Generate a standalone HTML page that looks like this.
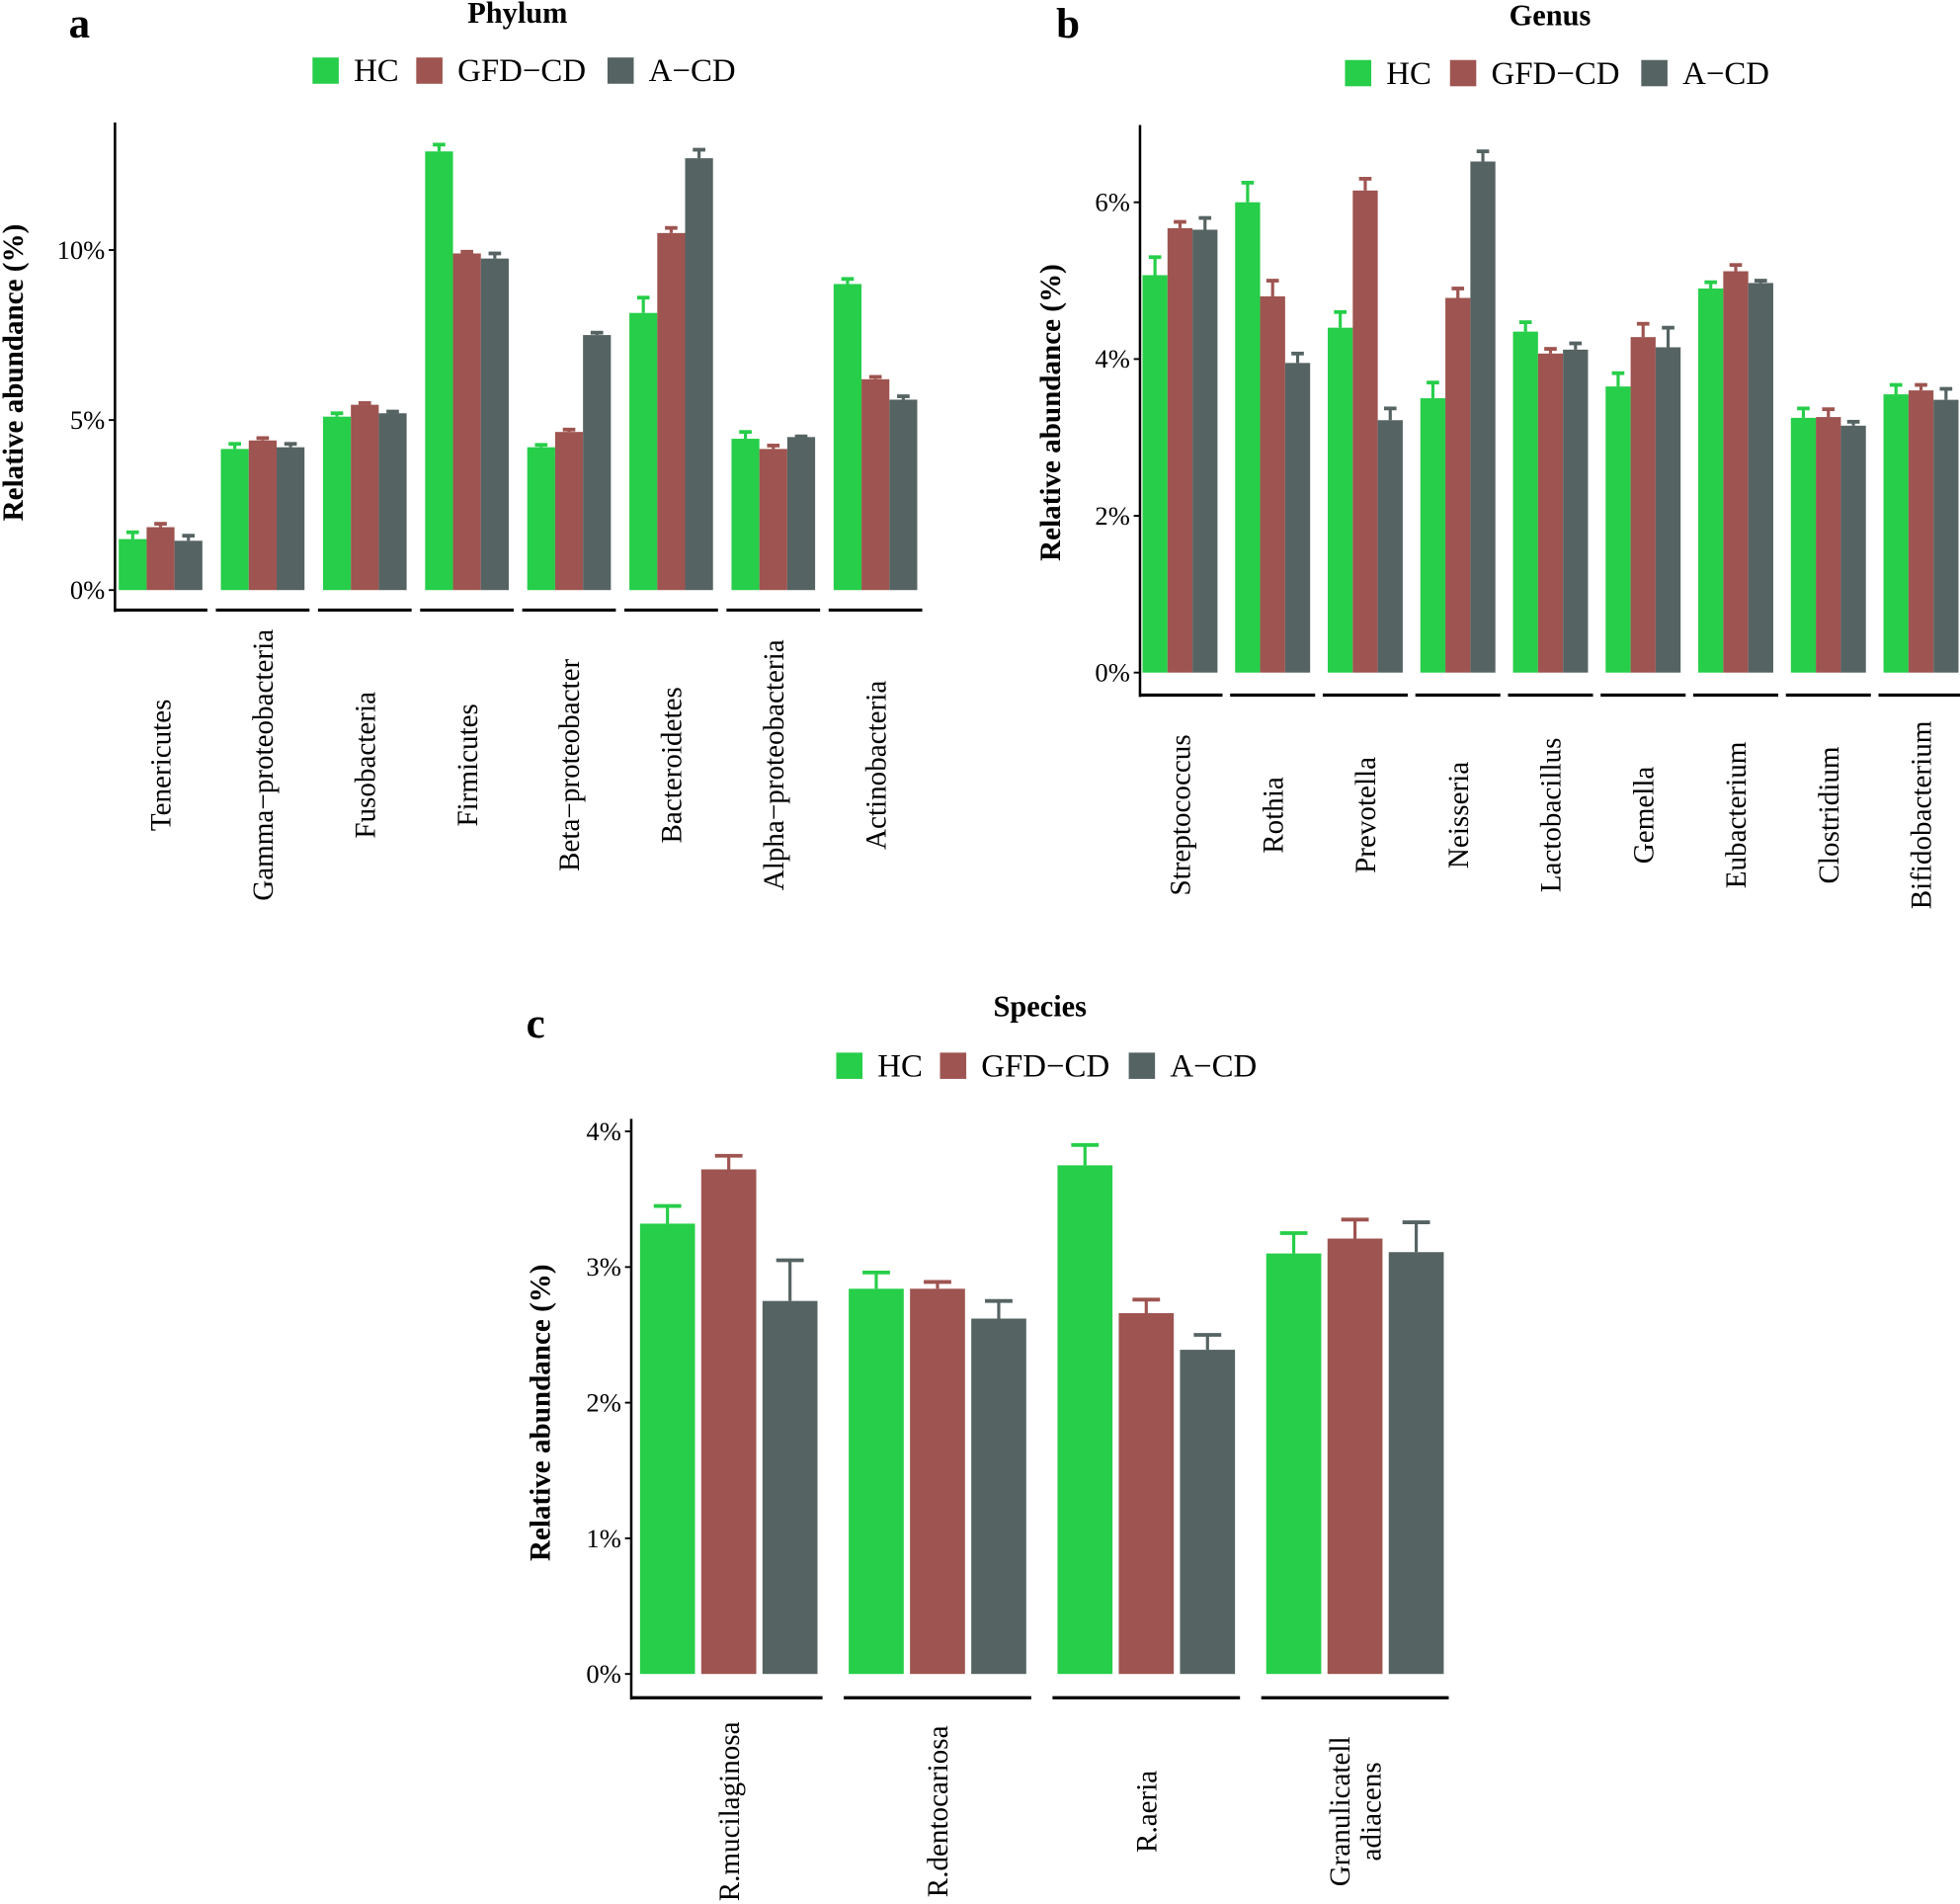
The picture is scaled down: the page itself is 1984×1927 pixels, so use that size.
<!DOCTYPE html>
<html><head><meta charset="utf-8"><style>
html,body{margin:0;padding:0;background:#fff}
svg{display:block;font-family:"Liberation Serif",serif}
</style></head><body>
<svg id="fig" width="1984" height="1927" viewBox="0 0 1568 1523" preserveAspectRatio="none" xmlns="http://www.w3.org/2000/svg"></svg>
<script>
const groups = ['HC','GFD\u2212CD','A\u2212CD'];
const colors = ['#26CE49','#9E5450','#566363'];

const catsA = ['Tenericutes','Gamma\u2212proteobacteria','Fusobacteria','Firmicutes','Beta\u2212proteobacter','Bacteroidetes','Alpha\u2212proteobacteria','Actinobacteria'];
const hcA  = [1.5,4.15,5.1,12.9,4.2,8.15,4.45,9.0];
const gfdA = [1.85,4.4,5.45,9.9,4.65,10.5,4.15,6.2];
const acdA = [1.45,4.2,5.2,9.75,7.5,12.7,4.5,5.6];
const hcAe  = [1.7,4.3,5.2,13.1,4.27,8.6,4.65,9.15];
const gfdAe = [1.95,4.47,5.5,9.95,4.72,10.65,4.25,6.27];
const acdAe = [1.6,4.3,5.25,9.9,7.57,12.95,4.52,5.7];
const ticksA = [0,5,10];

const catsB = ['Streptococcus','Rothia','Prevotella','Neisseria','Lactobacillus','Gemella','Eubacterium','Clostridium','Bifidobacterium'];
const hcB  = [5.07,6.0,4.4,3.5,4.35,3.65,4.9,3.25,3.55];
const gfdB = [5.67,4.8,6.15,4.78,4.07,4.28,5.12,3.26,3.6];
const acdB = [5.65,3.95,3.22,6.52,4.12,4.15,4.97,3.15,3.48];
const hcBe  = [5.3,6.25,4.6,3.7,4.47,3.82,4.98,3.37,3.67];
const gfdBe = [5.75,5.0,6.3,4.9,4.13,4.45,5.2,3.36,3.67];
const acdBe = [5.8,4.07,3.37,6.65,4.2,4.4,5.0,3.2,3.62];
const ticksB = [0,2,4,6];

const catsC = ['R.mucilaginosa','R.dentocariosa','R.aeria','Granulicatell|adiacens'];
const hcC  = [3.32,2.84,3.75,3.1];
const gfdC = [3.72,2.84,2.66,3.21];
const acdC = [2.75,2.62,2.39,3.11];
const hcCe  = [3.45,2.96,3.9,3.25];
const gfdCe = [3.82,2.89,2.76,3.35];
const acdCe = [3.05,2.75,2.5,3.33];
const ticksC = [0,1,2,3,4];

const NS='http://www.w3.org/2000/svg';
const svg=document.getElementById('fig');
function mk(tag,attrs,parent,text){const e=document.createElementNS(NS,tag);for(const k in attrs)e.setAttribute(k,attrs[k]);if(text!==undefined)e.textContent=text;(parent||svg).appendChild(e);return e;}

function panel(cfg){
  const g=mk('g',{});
  
  
  const y=v=>cfg.y0-v*cfg.pxPer;
  const L=mk('text',{x:cfg.letter[0],y:cfg.letter[1],'font-size':34,'font-weight':'bold'},g,cfg.letterText);
  
  
  const T=mk('text',{x:cfg.title[0],y:cfg.title[1],'font-size':24,'font-weight':'bold','text-anchor':'middle'},g,cfg.titleText);
  
  
  for(let i=0;i<3;i++){
    const lg=mk('g',{},g);
    
    
    mk('rect',{x:cfg.leg[i],y:cfg.legY,width:21,height:21,fill:colors[i]},lg);
    mk('text',{x:cfg.leg[i]+33,y:cfg.legY+19,'font-size':26},lg,groups[i]);
  }
  const ax=mk('line',{x1:cfg.ax,y1:cfg.axTop,x2:cfg.ax,y2:cfg.axY+1.5,stroke:'#000','stroke-width':2},g);
  
  
  cfg.ticks.forEach(t=>{
    mk('line',{x1:cfg.ax-5,y1:y(t),x2:cfg.ax,y2:y(t),stroke:'#000','stroke-width':1.5},g);
    const tl=mk('text',{x:cfg.ax-8,y:y(t)+7,'font-size':21,'text-anchor':'end'},g,t+'%');
    
    
  });
  const yt=mk('text',{x:0,y:0,'font-size':23,'font-weight':'bold','text-anchor':'middle',transform:`translate(${cfg.ytX},${cfg.ytY}) rotate(-90)`},g,'Relative abundance (%)');
  
  
  const vals=[cfg.hc,cfg.gfd,cfg.acd], errs=[cfg.hce,cfg.gfde,cfg.acde];
  cfg.cats.forEach((c,ci)=>{
    const gx=cfg.gx0+ci*cfg.step;
    for(let s=0;s<3;s++){
      const bx=gx+s*cfg.bstep;
      const r=mk('rect',{x:bx,y:y(vals[s][ci]),width:cfg.bw,height:vals[s][ci]*cfg.pxPer,fill:colors[s]},g);
      
      
      const cx=bx+cfg.bw/2;
      mk('line',{x1:cx,y1:y(vals[s][ci]),x2:cx,y2:y(errs[s][ci]),stroke:colors[s],'stroke-width':2.5},g);
      mk('line',{x1:cx-cfg.cap,y1:y(errs[s][ci]),x2:cx+cfg.cap,y2:y(errs[s][ci]),stroke:colors[s],'stroke-width':3},g);
    }
    const segL=(ci===0?cfg.ax:gx-4), segR=gx+2*cfg.bstep+cfg.bw+4;
    mk('line',{x1:segL,y1:cfg.axY,x2:segR,y2:cfg.axY,stroke:'#000','stroke-width':2.5},g);
    const mid=gx+(2*cfg.bstep+cfg.bw)/2;
    const parts=c.split('|');
    parts.forEach((p,pi)=>{
      const off=(pi-(parts.length-1)/2)*25;
      const xl=mk('text',{x:0,y:0,'font-size':23,'text-anchor':'middle',transform:`translate(${mid+8+off},${cfg.labY}) rotate(-90)`},g,p);
      
      
    });
  });
}

panel({name:'panel-a-phylum',letterText:'a',letter:[55,30],titleText:'Phylum',title:[414,18],leg:[250,333,486],legY:46,
  ax:92,axTop:98,axY:488,y0:472,pxPer:27.2,ticks:ticksA,ytX:18,ytY:298,
  cats:catsA,hc:hcA,gfd:gfdA,acd:acdA,hce:hcAe,gfde:gfdAe,acde:acdAe,gx0:95,step:81.7,bstep:22.3,bw:22.3,cap:5,labY:612});
panel({name:'panel-b-genus',letterText:'b',letter:[845,30],titleText:'Genus',title:[1240,20],leg:[1076,1160,1313],legY:48,
  ax:912,axTop:100,axY:556,y0:538,pxPer:62.7,ticks:ticksB,ytX:848,ytY:330,
  cats:catsB,hc:hcB,gfd:gfdB,acd:acdB,hce:hcBe,gfde:gfdBe,acde:acdBe,gx0:914,step:74.1,bstep:20,bw:20,cap:5,labY:652});
panel({name:'panel-c-species',letterText:'c',letter:[421,830],titleText:'Species',title:[832,813],leg:[669,752,903],legY:842,
  ax:505,axTop:895,axY:1358,y0:1339,pxPer:108.5,ticks:ticksC,ytX:440,ytY:1130,
  cats:catsC,hc:hcC,gfd:gfdC,acd:acdC,hce:hcCe,gfde:gfdCe,acde:acdCe,gx0:512,step:167,bstep:49,bw:44,cap:11,labY:1449});
</script>
</body></html>
